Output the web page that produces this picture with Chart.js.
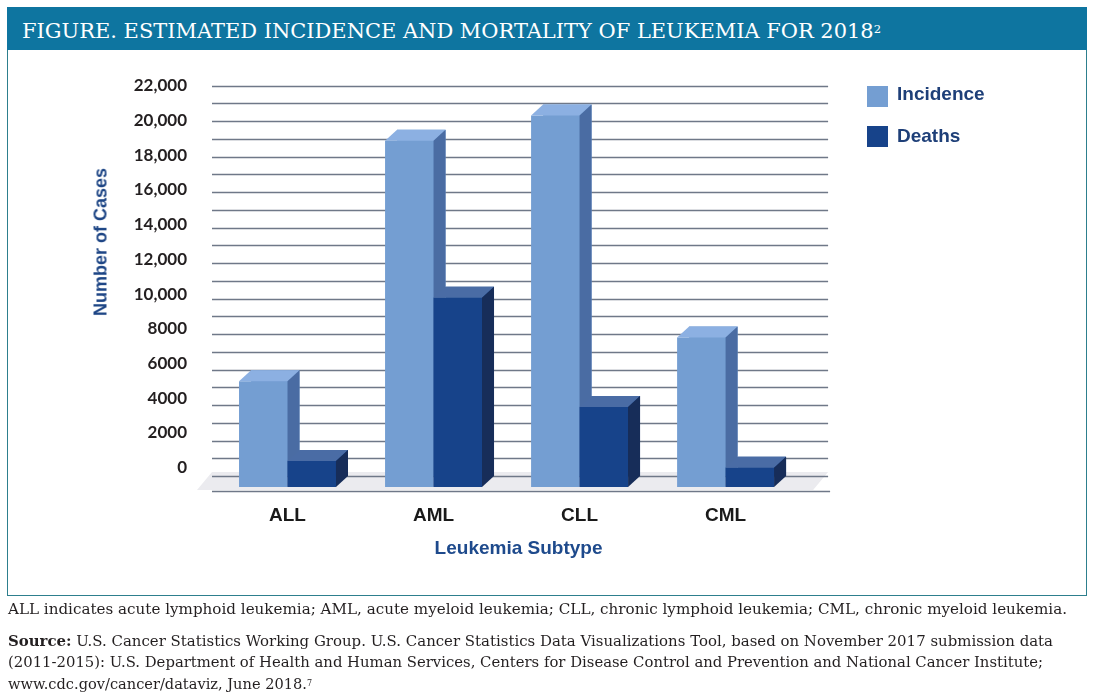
<!DOCTYPE html>
<html>
<head>
<meta charset="utf-8">
<script src="https://cdn.jsdelivr.net/npm/chart.js@4.4.1/dist/chart.umd.min.js"></script>
<style>
  html, body { margin:0; padding:0; background:#ffffff; width:1096px; height:698px; overflow:hidden; }
  #frame { position:absolute; left:7px; top:7px; width:1080px; height:589px; border:1.5px solid #2d7f8d; box-sizing:border-box; }
  #header { position:absolute; left:7px; top:7px; width:1080px; height:43px; background:#0e75a0; }
  #title { position:absolute; left:22px; top:21px; font-family:"DejaVu Serif"; font-size:20px; line-height:20px; color:#ffffff; white-space:nowrap; transform-origin:0 0; }
  #title sup, .fn sup { font-size:0.55em; vertical-align:top; position:relative; top:-1px; }
  #c { position:absolute; left:0; top:0; }
  #ytitle { position:absolute; left:101px; top:242px; transform:translate(-50%,-50%) rotate(-90deg); font-family:"Liberation Sans"; font-weight:bold; font-size:18px; color:#1d4585; white-space:nowrap; }
  .sw { position:absolute; left:867px; width:21px; height:21px; }
  .lt { position:absolute; left:897px; font-family:"Liberation Sans"; font-weight:bold; font-size:19px; line-height:19px; color:#1e3f78; white-space:nowrap; }
  .fn { position:absolute; left:8px; font-family:"DejaVu Serif"; font-size:15.5px; line-height:16px; color:#231f20; white-space:nowrap; transform-origin:0 0; }
</style>
</head>
<body>
<div id="frame"></div>
<div id="header"></div>
<div id="title">FIGURE. ESTIMATED INCIDENCE AND MORTALITY OF LEUKEMIA FOR 2018<sup>2</sup></div>
<canvas id="c" width="1096" height="698"></canvas>
<div id="ytitle">Number of Cases</div>
<div id="legend"></div>
<div class="fn" id="fn1" style="top:601px">ALL indicates acute lymphoid leukemia; AML, acute myeloid leukemia; CLL, chronic lymphoid leukemia; CML, chronic myeloid leukemia.</div>
<div class="fn" id="fn2" style="top:633px"><b>Source:</b> U.S. Cancer Statistics Working Group. U.S. Cancer Statistics Data Visualizations Tool, based on November 2017 submission data</div>
<div class="fn" id="fn3" style="top:654px">(2011-2015): U.S. Department of Health and Human Services, Centers for Disease Control and Prevention and National Cancer Institute;</div>
<div class="fn" id="fn4" style="top:676px">www.cdc.gov/cancer/dataviz, June 2018.<sup>7</sup></div>
<script>
// ---- data ----
const categories = ['ALL', 'AML', 'CLL', 'CML'];
const seriesNames = ['Incidence', 'Deaths'];
const incidence = [5960, 19520, 20940, 8430];
const deaths = [1470, 10670, 4510, 1090];
const yTickValues = [0, 2000, 4000, 6000, 8000, 10000, 12000, 14000, 16000, 18000, 20000, 22000];
const yTickLabels = ['0', '2000', '4000', '6000', '8000', '10,000', '12,000', '14,000', '16,000', '18,000', '20,000', '22,000'];
const yMin = 0;
const yMax = 22000;
const gridStep = 1000;

// ---- styles ----
const faceColors = [
  { front: '#749ed2', top: '#8cb0e2', side: '#4a6ca3' },
  { front: '#17438a', top: '#4a6ca5', side: '#172d59' }
];
const depth = { dx: 12, dy: 11 };

// legend (HTML)
const legendEl = document.getElementById('legend');
const legendTops = [86, 126];
const legendTextTops = [84, 125.6];
seriesNames.forEach((name, i) => {
  const sw = document.createElement('div');
  sw.className = 'sw';
  sw.style.top = legendTops[i] + 'px';
  sw.style.background = faceColors[i].front;
  legendEl.appendChild(sw);
  const t = document.createElement('div');
  t.className = 'lt';
  t.style.top = legendTextTops[i] + 'px';
  t.textContent = name;
  legendEl.appendChild(t);
});

function box(ctx, x1, x2, top, bottom, c) {
  const { dx, dy } = depth;
  ctx.fillStyle = c.front;
  ctx.fillRect(x1, top, x2 - x1, bottom - top);
  ctx.fillStyle = c.top;
  ctx.beginPath();
  ctx.moveTo(x1, top); ctx.lineTo(x2, top); ctx.lineTo(x2 + dx, top - dy); ctx.lineTo(x1 + dx, top - dy);
  ctx.closePath(); ctx.fill();
  ctx.fillStyle = c.side;
  ctx.beginPath();
  ctx.moveTo(x2, top); ctx.lineTo(x2 + dx, top - dy); ctx.lineTo(x2 + dx, bottom - dy); ctx.lineTo(x2, bottom);
  ctx.closePath(); ctx.fill();
}

const bars3d = {
  id: 'bars3d',
  beforeDatasetsDraw(chart) {
    const { ctx, chartArea: a, scales: { y } } = chart;
    const y0 = y.getPixelForValue(0);
    const gl = a.left - 14.5, gr = a.right + 17.5;
    ctx.save();
    // floor
    ctx.fillStyle = '#ebebef';
    ctx.beginPath();
    ctx.moveTo(gl, y0 - 4); ctx.lineTo(gr, y0 - 4);
    ctx.lineTo(gr - 15, y0 + 14); ctx.lineTo(gl - 15, y0 + 14);
    ctx.closePath(); ctx.fill();
    // back-wall gridlines
    ctx.strokeStyle = '#6f7888';
    ctx.lineWidth = 1.4;
    ctx.beginPath();
    for (let v = yMin; v <= yMax; v += gridStep) {
      const py = Math.round(y.getPixelForValue(v)) + 0.5;
      ctx.moveTo(gl, py); ctx.lineTo(gr, py);
    }
    const pb = Math.round(y0 + 14.7) + 0.5;
    ctx.moveTo(gl, pb); ctx.lineTo(gr + 2, pb);
    ctx.stroke();
    ctx.restore();
  },
  afterDatasetsDraw(chart) {
    const { ctx } = chart;
    const { dx, dy } = depth;
    const metas = chart.data.datasets.map((d, i) => chart.getDatasetMeta(i));
    ctx.save();
    for (let j = 0; j < categories.length; j++) {
      metas.forEach((m, i) => {
        const el = m.data[j];
        const w = el.width;
        const x1 = el.x - w / 2 - dx, x2 = el.x + w / 2 - dx;
        box(ctx, x1, x2, el.y + dy, el.base + dy, faceColors[i]);
      });
    }
    ctx.restore();
  }
};

const chart = new Chart(document.getElementById('c'), {
  type: 'bar',
  data: {
    labels: categories,
    datasets: [
      { label: seriesNames[0], data: incidence, backgroundColor: faceColors[0].front, yAxisID: 'y' },
      { label: seriesNames[1], data: deaths, backgroundColor: faceColors[1].front, yAxisID: 'y' }
    ]
  },
  options: {
    responsive: false,
    animation: false,
    datasets: { bar: { categoryPercentage: 0.664, barPercentage: 1.0 } },
    layout: { padding: { left: 116.5, right: 285.4, top: 85.7, bottom: 122 } },
    plugins: { legend: { display: false }, tooltip: { enabled: false } },
    scales: {
      x: {
        type: 'category',
        offset: true,
        grid: { display: false, drawTicks: false },
        border: { display: false },
        ticks: {
          font: { family: 'Liberation Sans', weight: 'bold', size: 19 },
          color: '#1a1a1a',
          labelOffset: -12,
          padding: 28.6
        },
        title: {
          display: true,
          text: 'Leukemia Subtype',
          font: { family: 'Liberation Sans', weight: 'bold', size: 19 },
          color: '#1e4a8c',
          padding: { top: 0, bottom: 15.6 }
        },
        afterFit(s) { s.height = 100; }
      },
      y: {
        display: false,
        min: yMin,
        max: yMax,
        ticks: { stepSize: gridStep }
      },
      yl: {
        position: 'left',
        min: -478,
        max: yMax,
        grid: { display: false, drawTicks: false },
        border: { display: false },
        afterBuildTicks(s) { s.ticks = yTickValues.map(v => ({ value: v })); },
        ticks: {
          callback: (v, i) => yTickLabels[i],
          padding: 39.5,
          font: { family: 'Lato', weight: 'bold', size: 17 },
          color: '#231f20'
        },
        afterFit(s) { s.width = 110; }
      }
    }
  },
  plugins: [bars3d]
});

// fit header/footnote text to the reference line widths
function fit(id, w) {
  const el = document.getElementById(id);
  el.style.transform = 'none';
  const n = el.getBoundingClientRect().width;
  if (n > 0) el.style.transform = 'scaleX(' + (w / n) + ')';
}
function fitAll() {
  fit('title', 859);
  fit('fn1', 1059);
  fit('fn2', 1045);
  fit('fn3', 1035);
  fit('fn4', 304);
}
fitAll();
if (document.fonts && document.fonts.ready) document.fonts.ready.then(() => { fitAll(); chart.update(); });
</script>
</body>
</html>
